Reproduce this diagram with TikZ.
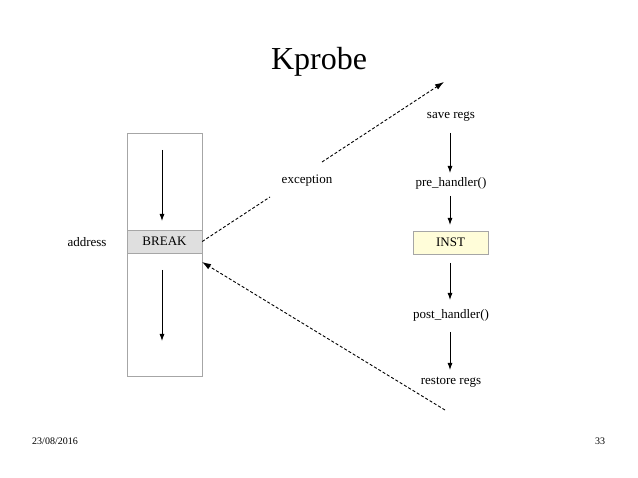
\documentclass[tikz,border=0pt]{standalone}
\usepackage{fontspec}
\setmainfont{Liberation Serif}
\usetikzlibrary{arrows.meta}
\begin{document}
\begin{tikzpicture}[x=1pt,y=-1pt,
  lbl/.style={font=\fontsize{13}{15}\selectfont},
  arr/.style={-{Latex[length=7pt,width=5pt]},line width=0.9pt},
  dsh/.style={densely dashed,line width=0.9pt}]
\useasboundingbox (0,0) rectangle (638,478);
\node at (319,62) {\fontsize{32}{36}\selectfont Kprobe};
\draw[line width=0.4pt,gray!70] (127,133) rectangle (202,376);
\node[draw=gray!70,fill=gray!25,minimum width=75pt,minimum height=23pt,inner sep=0pt,lbl] (brk) at (164.5,241.5) {BREAK};
\draw[arr] (162,150) -- (162,221);
\draw[arr] (162,270) -- (162,341);
\node[lbl] (addr) at (87,242) {address};
\node[lbl] (exc) at (307,181) {exception};
\coordinate (a1) at (270,197);
\coordinate (a2) at (322,162);
\coordinate (tgt) at (444,82);
\coordinate (src) at (445,410);
\draw[dsh] (brk.east) -- (a1);
\draw[dsh,-{Latex[length=9pt,width=6pt]}] (a2) -- (tgt);
\draw[dsh,-{Latex[length=9pt,width=6pt]}] (src) -- (202,262);
\node[lbl] (s) at (451,117) {save regs};
\node[lbl] (p) at (451,183) {pre\_handler()};
\node[draw=gray!70,fill=yellow!15,minimum width=75pt,minimum height=23pt,inner sep=0pt,lbl] (i) at (450.5,242.5) {INST};
\node[lbl] (q) at (451,315) {post\_handler()};
\node[lbl] (r) at (451,382) {restore regs};
\draw[arr] (450,133) -- (450,173);
\draw[arr] (450,196) -- (450,225);
\draw[arr] (450,263) -- (450,300);
\draw[arr] (450,332) -- (450,370);
\node[font=\fontsize{10}{12}\selectfont] (d) at (55,441) {23/08/2016};
\node[font=\fontsize{10}{12}\selectfont] (n) at (600,441) {33};
\end{tikzpicture}
\end{document}
